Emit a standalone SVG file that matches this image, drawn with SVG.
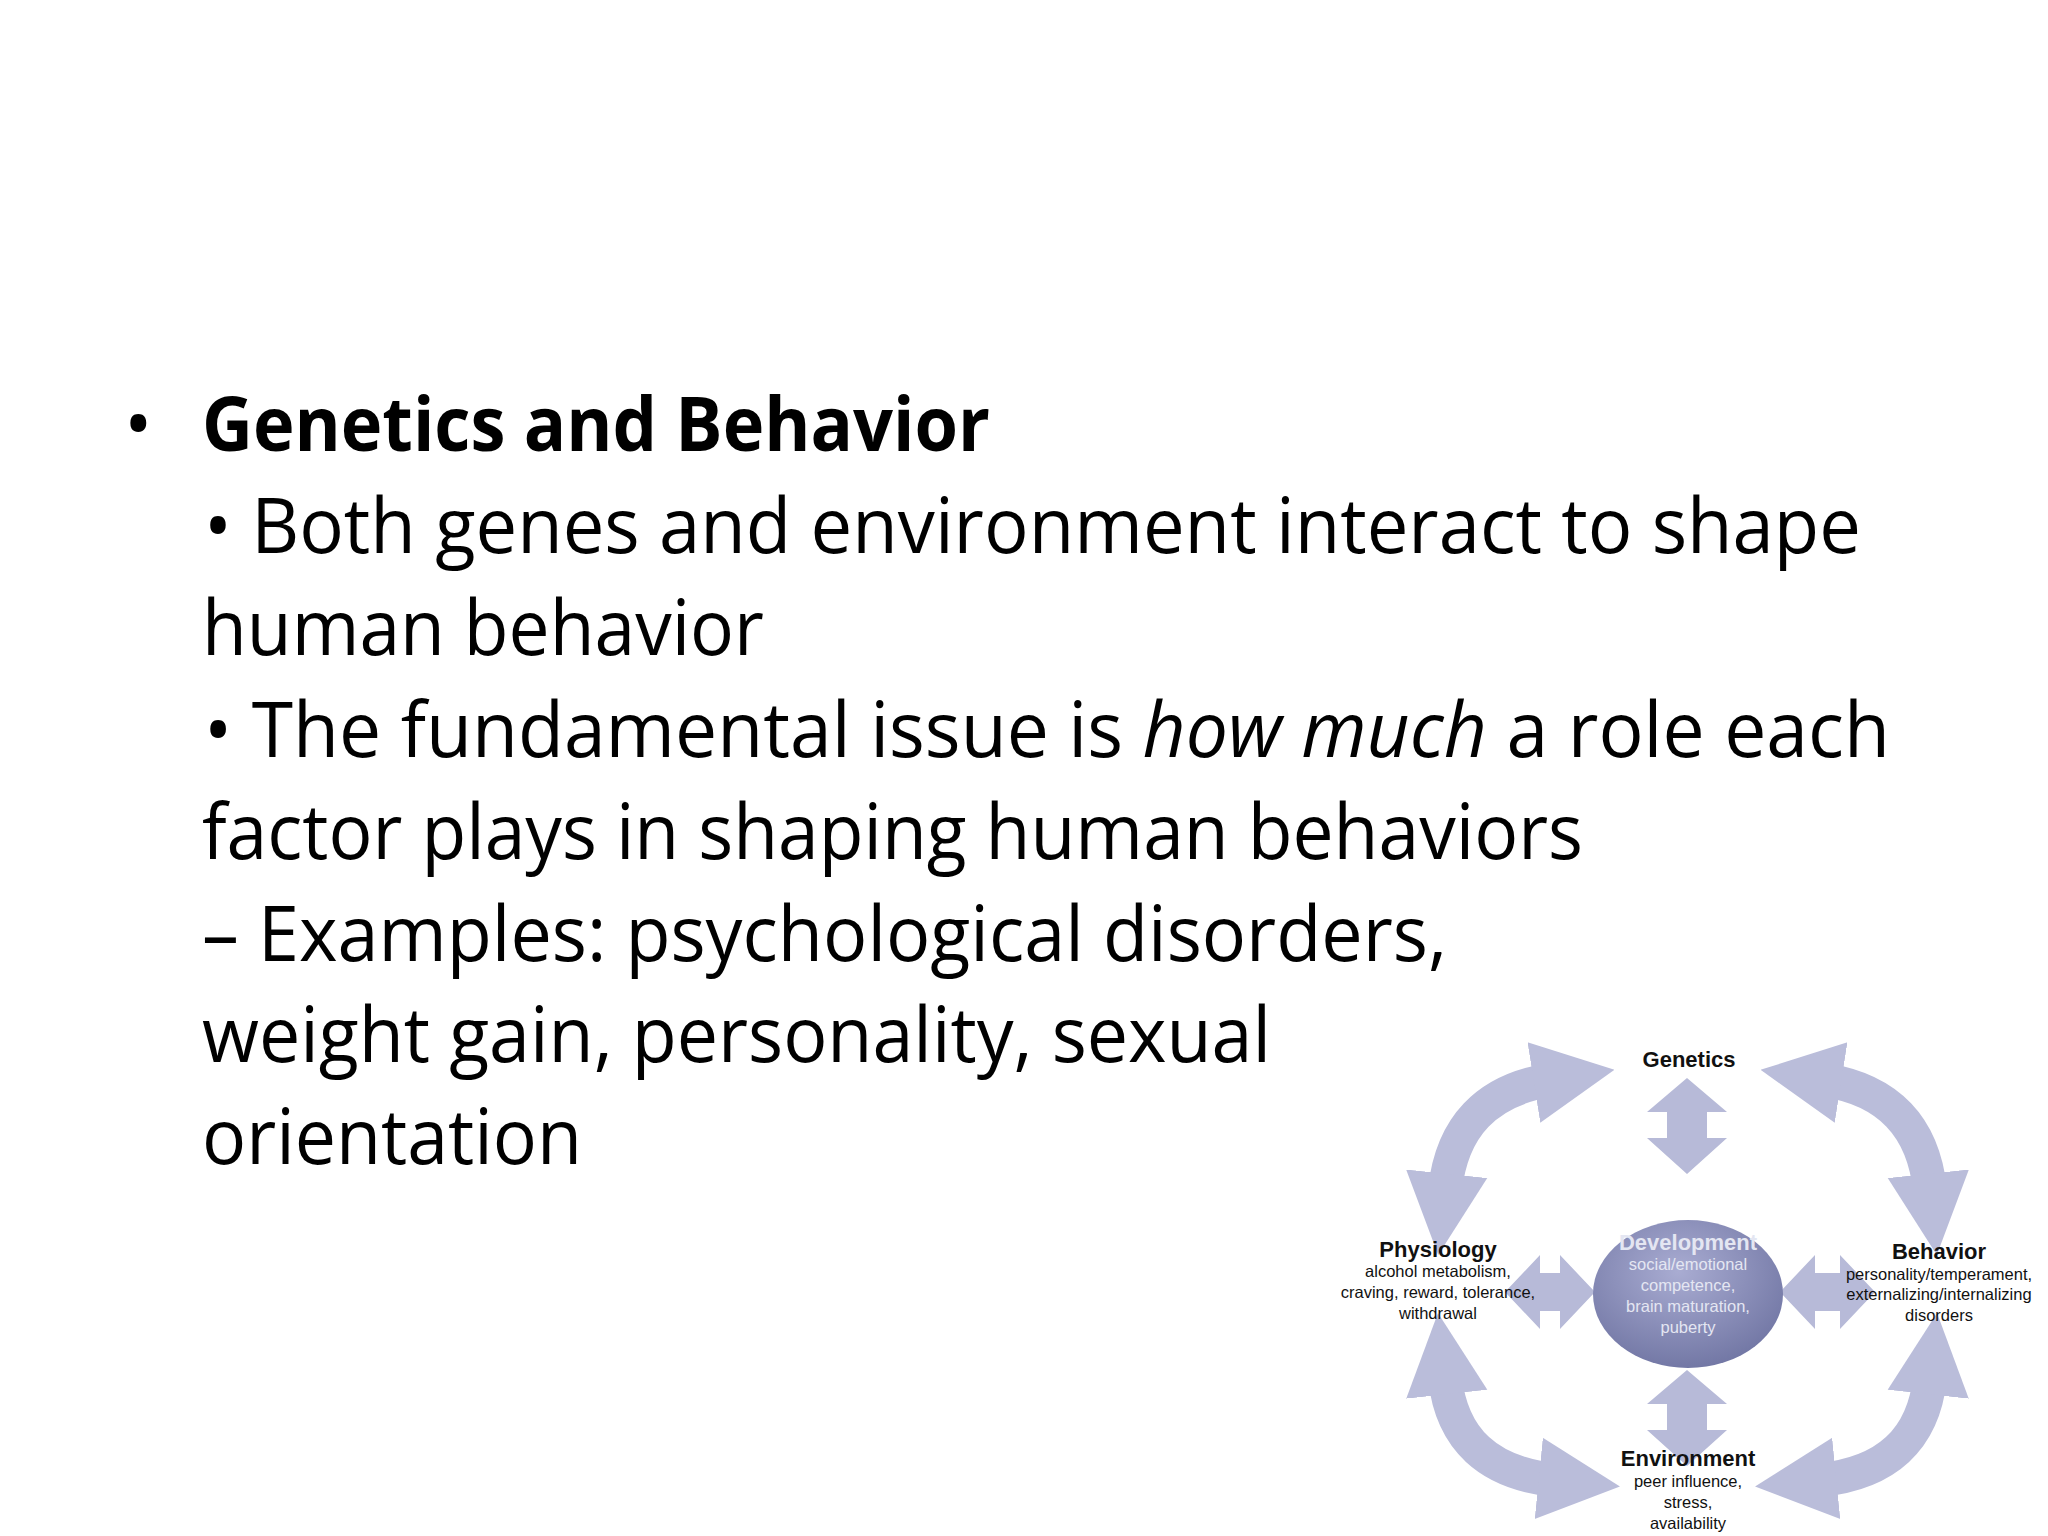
<svg xmlns="http://www.w3.org/2000/svg" width="2048" height="1536" viewBox="0 0 2048 1536">
<style>
.b{font-family:"Open Sans","Noto Sans","Liberation Sans",sans-serif;font-size:76px;fill:#000}
.l{font-family:"Liberation Sans",Arial,sans-serif;fill:#111;text-anchor:middle}
.h{font-size:22px;font-weight:bold}
.s{font-size:16.5px}
.w{fill:#e4e6f2}
.arc{fill:none;stroke:#babdda;stroke-width:34;marker-start:url(#hd);marker-end:url(#hd)}
.ar{fill:#b7bad8}
</style>
<defs>
<marker id="hd" viewBox="0 0 10 10" refX="2" refY="5" markerWidth="2.4" markerHeight="2.6" orient="auto-start-reverse" markerUnits="strokeWidth">
<path d="M0,0 L10,5 L0,10 Z" fill="#babdda"/>
</marker>
<radialGradient id="cg" cx="0.45" cy="0.35" r="0.7">
<stop offset="0" stop-color="#a9acd2"/>
<stop offset="1" stop-color="#6f74a2"/>
</radialGradient>
</defs>
<rect width="2048" height="1536" fill="#fff"/>
<g id="bullets">
<text class="b" x="124" y="451">•</text>
<text class="b" x="202" y="451" font-weight="bold" textLength="788" lengthAdjust="spacingAndGlyphs">Genetics and Behavior</text>
<text class="b" x="204" y="553" textLength="1657" lengthAdjust="spacingAndGlyphs">• Both genes and environment interact to shape</text>
<text class="b" x="202" y="655" textLength="562" lengthAdjust="spacingAndGlyphs">human behavior</text>
<text class="b" x="204" y="757" textLength="1686" lengthAdjust="spacingAndGlyphs">• The fundamental issue is <tspan font-style="italic">how much</tspan> a role each</text>
<text class="b" x="202" y="859" textLength="1381" lengthAdjust="spacingAndGlyphs">factor plays in shaping human behaviors</text>
<text class="b" x="202" y="961" textLength="1245" lengthAdjust="spacingAndGlyphs">– Examples: psychological disorders,</text>
<text class="b" x="202" y="1062" textLength="1069" lengthAdjust="spacingAndGlyphs">weight gain, personality, sexual</text>
<text class="b" x="202" y="1164" textLength="380" lengthAdjust="spacingAndGlyphs">orientation</text>
</g>
<g id="connectors">
<path class="arc" d="M1445,1190 Q1455,1095 1550,1080"/>
<path class="arc" d="M1825,1080 Q1920,1095 1930,1190"/>
<path class="arc" d="M1445,1378 Q1455,1470 1555,1480"/>
<path class="arc" d="M1820,1480 Q1920,1470 1930,1378"/>
<polygon class="ar" points="1687,1078 1727,1112 1707,1112 1707,1138 1727,1138 1687,1174 1647,1138 1667,1138 1667,1112 1647,1112"/>
<polygon class="ar" points="1687,1370 1727,1404 1707,1404 1707,1430 1727,1430 1687,1466 1647,1430 1667,1430 1667,1404 1647,1404"/>
<polygon class="ar" points="1505,1292 1540,1255 1540,1273 1560,1273 1560,1255 1595,1292 1560,1329 1560,1311 1540,1311 1540,1329"/>
<polygon class="ar" points="1780,1292 1815,1255 1815,1273 1840,1273 1840,1255 1875,1292 1840,1329 1840,1311 1815,1311 1815,1329"/>
</g>
<g id="development">
<ellipse cx="1688" cy="1294" rx="95" ry="74" fill="url(#cg)"/>
<text class="l h w" x="1688" y="1250">Development</text>
<text class="l s w" x="1688" y="1270">social/emotional</text>
<text class="l s w" x="1688" y="1291">competence,</text>
<text class="l s w" x="1688" y="1312">brain maturation,</text>
<text class="l s w" x="1688" y="1333">puberty</text>
</g>
<g id="genetics"><text class="l h" x="1689" y="1067">Genetics</text></g>
<g id="physiology">
<text class="l h" x="1438" y="1257">Physiology</text>
<text class="l s" x="1438" y="1277">alcohol metabolism,</text>
<text class="l s" x="1438" y="1298">craving, reward, tolerance,</text>
<text class="l s" x="1438" y="1319">withdrawal</text>
</g>
<g id="behavior">
<text class="l h" x="1939" y="1259">Behavior</text>
<text class="l s" x="1939" y="1280">personality/temperament,</text>
<text class="l s" x="1939" y="1300">externalizing/internalizing</text>
<text class="l s" x="1939" y="1321">disorders</text>
</g>
<g id="environment">
<text class="l h" x="1688" y="1466">Environment</text>
<text class="l s" x="1688" y="1487">peer influence,</text>
<text class="l s" x="1688" y="1508">stress,</text>
<text class="l s" x="1688" y="1529">availability</text>
</g>
</svg>
